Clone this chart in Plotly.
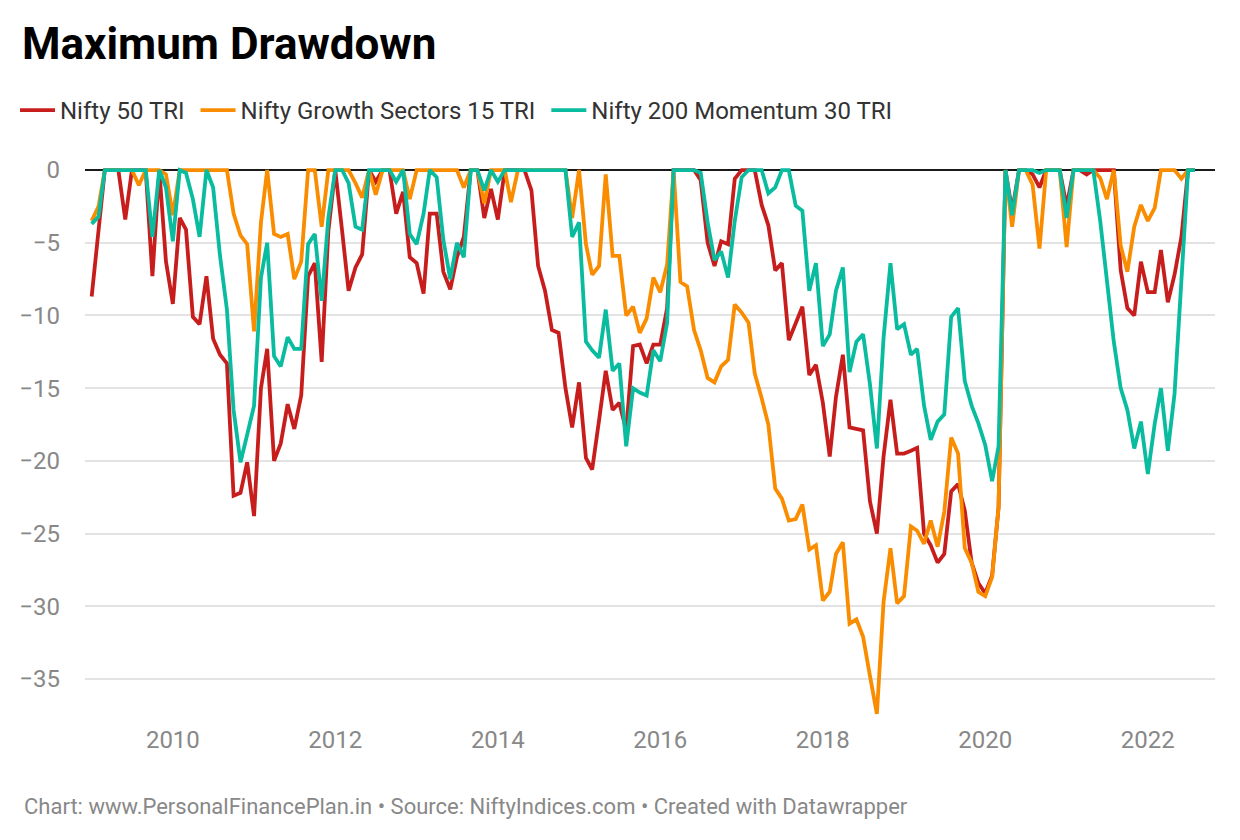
import pandas as pd
import plotly.graph_objects as go

# ---- data (monthly, Jan 2009 .. Aug 2022) ----
dates = pd.date_range("2009-01-01", periods=164, freq="MS")

nifty50 = [
    -8.7, -4.4, 0, 0, 0, -3.4, 0, 0, 0, -7.3, 0, -6.3,
    -9.2, -3.3, -4.1, -10.1, -10.6, -7.3, -11.6, -12.7, -13.3, -22.4, -22.2, -20.1,
    -23.8, -15.0, -12.3, -20.0, -18.8, -16.1, -17.8, -15.5, -7.3, -6.4, -13.2, -4.2,
    0, -4.2, -8.3, -6.7, -5.8, 0, -0.8, 0, 0, -3.0, -1.5, -6.0,
    -6.4, -8.5, -3.0, -3.0, -7.0, -8.2, -6.0, -4.6, 0, 0, -3.3, -1.3,
    -3.4, 0, 0, 0, 0, -1.4, -6.6, -8.3, -11.0, -11.2, -15.0, -17.7,
    -14.6, -19.8, -20.6, -17.2, -13.8, -16.5, -16.0, -17.9, -12.1, -12.0, -13.3, -12.0,
    -12.0, -9.5, 0, 0, 0, 0, -0.7, -5.0, -6.6, -4.9, -5.1, -0.6,
    0, 0, 0, -2.4, -3.8, -6.9, -6.4, -11.7, -10.5, -9.4, -14.1, -13.4,
    -16.0, -19.7, -15.6, -12.7, -17.7, -17.8, -17.9, -22.8, -25.0, -19.7, -15.8, -19.5,
    -19.5, -19.3, -19.1, -25.0, -25.8, -27.0, -26.4, -22.1, -21.6, -23.4, -27.0, -28.4,
    -29.1, -27.9, -23.2, 0, -2.8, 0, 0, -0.3, -1.2, 0, 0, 0,
    -2.5, 0, 0, -0.3, 0, 0, 0, 0, -6.9, -9.5, -10.0, -6.3,
    -8.4, -8.4, -5.5, -9.1, -7.2, -4.6, 0, 0,
]

growth15 = [
    -3.5, -2.5, 0, 0, 0, 0, 0, -1.05, 0, 0, 0, -0.3,
    -3.1, 0, 0, 0, 0, 0, 0, 0, 0, -3.0, -4.5, -5.1,
    -11.1, -3.6, 0, -4.4, -4.6, -4.4, -7.5, -6.3, 0, 0, -3.9, 0,
    0, 0, 0, -0.9, -1.9, 0, -1.7, 0, 0, 0, 0, -2.0,
    0, 0, 0, 0, 0, 0, 0, -1.2, 0, 0, -2.3, 0,
    0, 0, -2.2, 0, 0, 0, 0, 0, 0, 0, 0, -3.3,
    0, -5.1, -7.2, -6.6, -0.3, -5.9, -5.9, -10.0, -9.4, -11.2, -10.2, -7.4,
    -8.4, -6.5, 0, -7.7, -8.0, -11.0, -12.4, -14.3, -14.6, -13.5, -13.05, -9.25,
    -9.8, -10.5, -14.0, -15.7, -17.5, -21.9, -22.6, -24.1, -24.0, -23.0, -26.1, -25.8,
    -29.6, -29.0, -26.4, -25.6, -31.2, -30.9, -32.1, -34.8, -37.4, -29.7, -26.0, -29.8,
    -29.3, -24.5, -24.8, -25.7, -24.1, -25.9, -23.5, -18.4, -19.5, -26.0, -27.0, -29.0,
    -29.3, -28.0, -23.2, 0, -3.9, 0, 0, -1.0, -5.4, 0, 0, 0,
    -5.3, 0, 0, 0, 0, -0.55, -2.0, 0, -5.2, -7.0, -3.9, -2.4,
    -3.5, -2.6, 0, 0, 0, -0.6, 0, 0,
]

momentum30 = [
    -3.7, -3.2, 0, 0, 0, 0, 0, 0, 0, -4.6, 0, -1.2,
    -4.9, 0, -0.2, -2.0, -4.6, 0, -1.2, -5.9, -9.6, -16.5, -20.1, -18.2,
    -16.2, -7.4, -5.0, -12.8, -13.5, -11.5, -12.3, -12.3, -5.1, -4.4, -9.0, -3.3,
    0, 0, -0.9, -3.9, -4.1, 0, 0, 0, 0, -0.8, 0, -4.4,
    -5.1, -3.0, 0, -0.5, -4.8, -7.5, -5.0, -6.0, 0, 0, -1.4, 0,
    -0.8, 0, 0, 0, 0, 0, 0, 0, 0, 0, 0, -4.6,
    -3.6, -11.8, -12.4, -12.9, -9.6, -13.8, -13.3, -19.0, -15.0, -15.3, -15.5, -12.4,
    -13.15, -10.5, 0, 0, 0, 0, -0.2, -3.6, -6.2, -5.6, -7.4, -3.5,
    -0.5, 0, 0, 0, -1.6, -1.2, 0, 0, -2.45, -2.8, -8.3, -6.4,
    -12.1, -11.3, -8.3, -6.7, -13.9, -11.8, -11.3, -14.75, -19.15, -11.55, -6.4, -10.95,
    -10.6, -12.7, -12.3, -16.2, -18.55, -17.3, -16.8, -10.1, -9.5, -14.5, -16.2, -17.4,
    -18.9, -21.4, -19.0, 0, -3.1, 0, 0, 0, -0.2, 0, 0, 0,
    -3.3, 0, 0, 0, 0, -3.5, -7.6, -11.8, -15.0, -16.5, -19.15, -17.3,
    -20.9, -17.45, -15.0, -19.3, -15.4, -8.0, 0, 0,
]

series_names = ["Nifty 50 TRI", "Nifty Growth Sectors 15 TRI", "Nifty 200 Momentum 30 TRI"]
series_colors = ["#c71e1d", "#fa8c00", "#09bb9f"]
y_ticks = [0, -5, -10, -15, -20, -25, -30, -35]
x_tick_years = ["2010-01-01", "2012-01-01", "2014-01-01", "2016-01-01",
                "2018-01-01", "2020-01-01", "2022-01-01"]

FONT = "Roboto"
NBSP = "\u00a0"

fig = go.Figure()
for k, (name, vals, col) in enumerate(zip(series_names, [nifty50, growth15, momentum30], series_colors)):
    label = name + (NBSP if k < len(series_names) - 1 else "")
    fig.add_trace(go.Scatter(
        x=dates, y=vals, name=label, mode="lines",
        line=dict(color=col, width=3.8),
    ))

fig.update_layout(
    width=1240, height=840,
    margin=dict(l=85, r=25, t=160, b=120),
    paper_bgcolor="white", plot_bgcolor="white",
    font=dict(family=FONT, size=24, color="#333333"),
    title=dict(
        text="Maximum Drawdown",
        font=dict(family=FONT, size=44, color="#000000", weight=700),
        x=22 / 1240, xanchor="left", xref="container",
        y=1 - 28 / 840, yanchor="top", yref="container",
    ),
    showlegend=True,
    legend=dict(
        orientation="h",
        xref="container", yref="container",
        x=15 / 1240, xanchor="left",
        y=1 - 88 / 840, yanchor="top",
        itemwidth=35,
        font=dict(family=FONT, size=24, color="#333333"),
        bgcolor="rgba(0,0,0,0)",
    ),
    xaxis=dict(
        type="date",
        range=["2008-12-02", "2022-10-30"],
        tickvals=x_tick_years,
        tickformat="%Y",
        showgrid=False, zeroline=False, showline=False,
        ticks="",
        ticklabelstandoff=3,
        tickfont=dict(family=FONT, size=24, color="#888888"),
    ),
    yaxis=dict(
        range=[-37.82, 0.69],
        tickvals=y_ticks,
        showgrid=True, gridcolor="#e3e3e3", gridwidth=2,
        zeroline=True, zerolinecolor="#1a1a1a", zerolinewidth=2,
        showline=False, ticks="",
        ticklabelstandoff=24,
        tickfont=dict(family=FONT, size=24, color="#888888"),
    ),
    annotations=[dict(
        text="Chart: www.PersonalFinancePlan.in • Source: NiftyIndices.com • Created with Datawrapper",
        xref="paper", yref="paper", x=-63 / 1130, y=-(806 - 720) / 560,
        xanchor="left", yanchor="middle", showarrow=False,
        font=dict(family=FONT, size=22, color="#888888"),
    )],
)

fig.write_html("out.html")
